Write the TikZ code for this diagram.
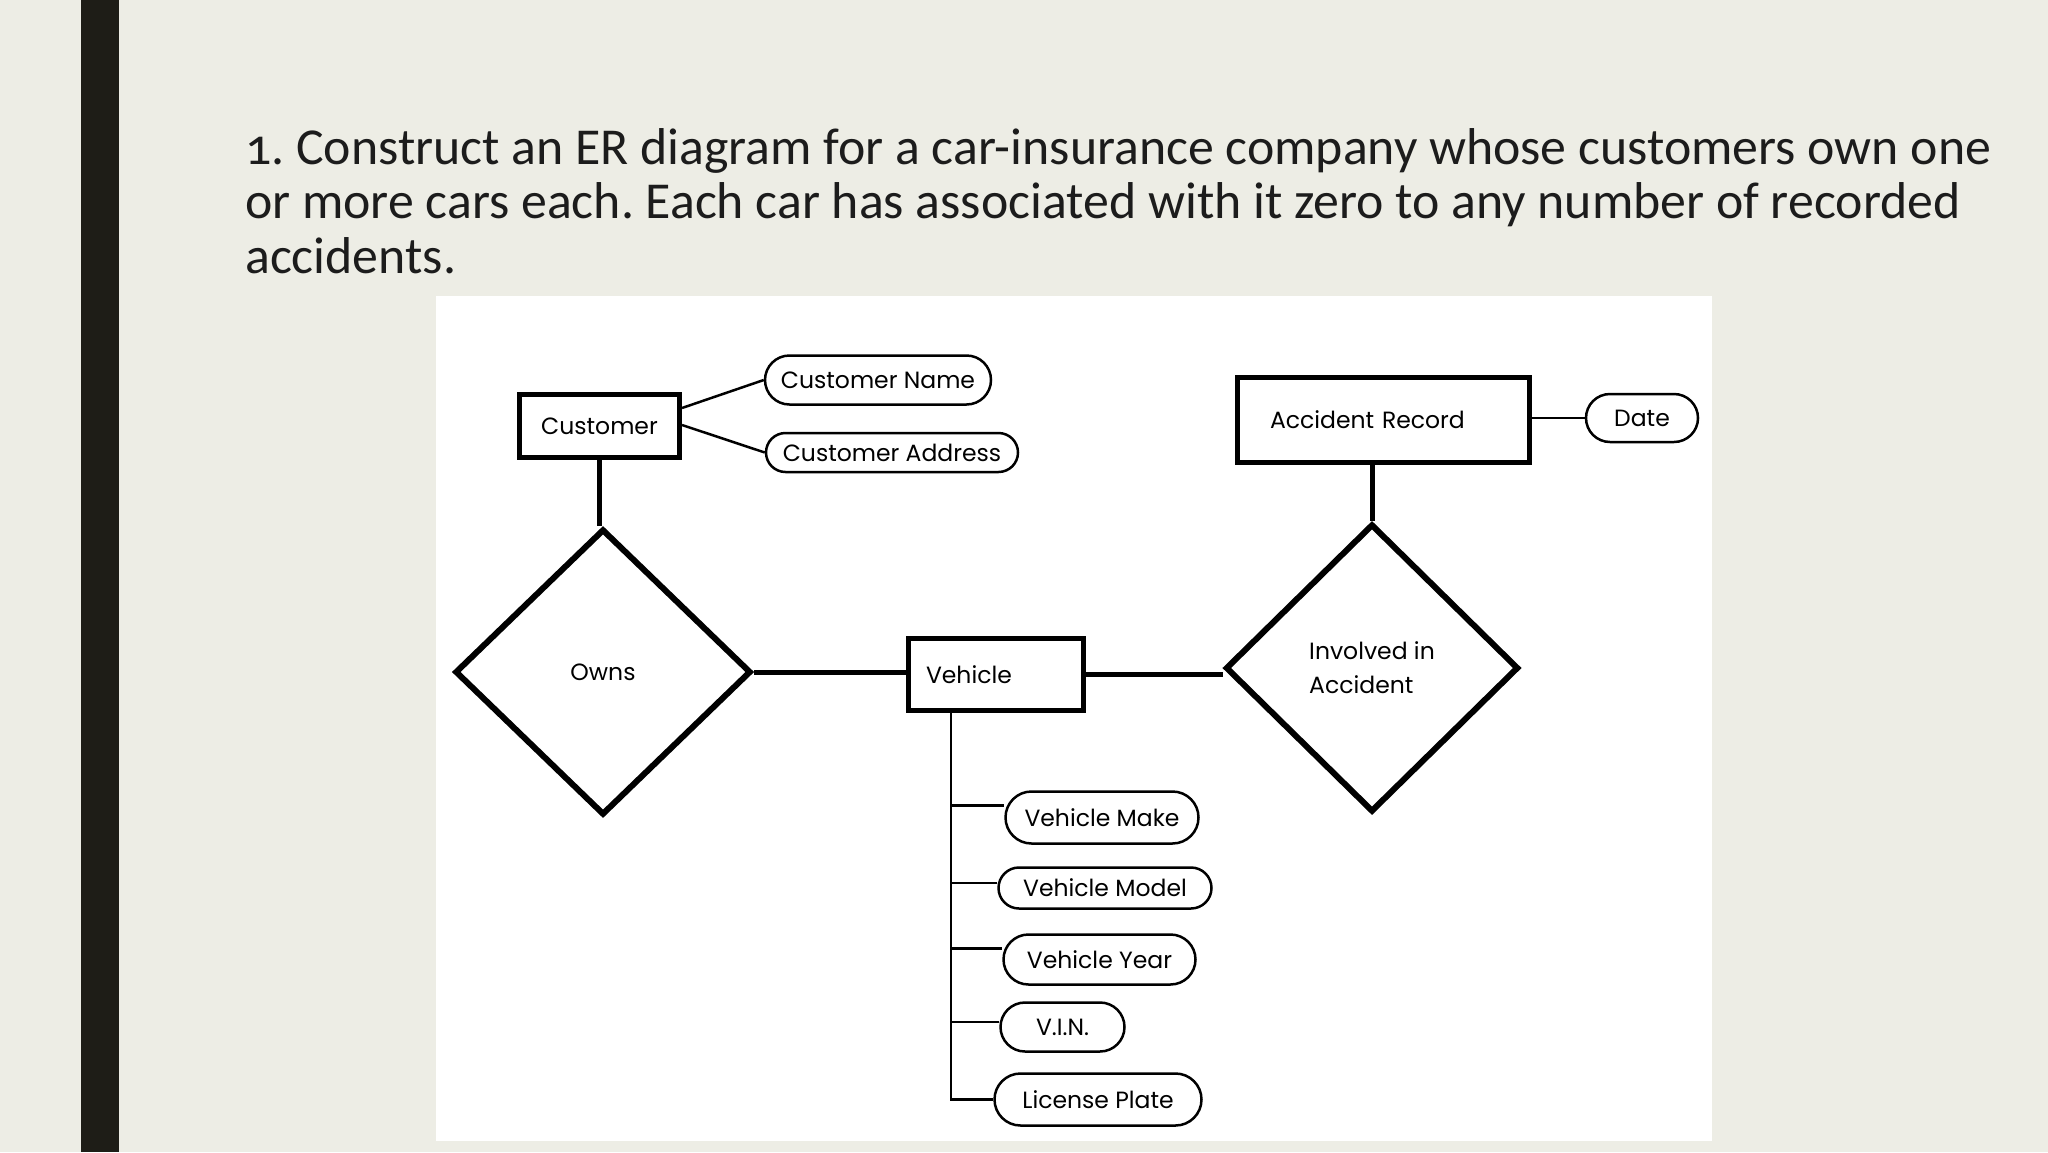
\documentclass[tikz,border=0pt]{standalone}
\usepackage{fontspec}
\setmainfont{Carlito}[Numbers=OldStyle]
\newfontfamily\diagfont{Poppins}
\usetikzlibrary{shapes.geometric,shapes.misc}
\definecolor{bg}{HTML}{EDEDE5}
\definecolor{barc}{HTML}{1E1D17}
\definecolor{ink}{HTML}{1C1C1C}
\frenchspacing
\begin{document}
\begin{tikzpicture}[x=1pt,y=-1pt,
  titletext/.style={anchor=base west, inner sep=0, text=ink, font=\fontsize{51.8}{56}\selectfont},
  entity/.style={draw, line width=5pt, rectangle, inner sep=0, font=\diagfont\fontsize{23.5}{26}\selectfont},
  rel/.style={draw, line width=6pt, diamond, inner sep=0, align=left, font=\diagfont\fontsize{23.5}{34}\selectfont},
  attr/.style={draw, line width=2.5pt, rounded rectangle, inner sep=0, font=\diagfont\fontsize{23.5}{26}\selectfont},
  thicklink/.style={line width=5pt},
  thinlink/.style={line width=2.5pt}]
% background and frame
\fill[bg] (0,0) rectangle (2048,1152);
\fill[barc] (81,0) rectangle (119,1152);
\fill[white] (436,296) rectangle (1712,1141);
\useasboundingbox (0,0) rectangle (2048,1152);
% title
\node[titletext] (t1) at (245,164) {1. Construct an ER diagram for a car-insurance company whose customers own one};
\node[titletext] (t2) at (245,218) {or more cars each. Each car has associated with it zero to any number of recorded};
\node[titletext] (t3) at (245,273) {accidents.};
% entities
\node[entity, minimum width=160, minimum height=63] (cust) at (599.5,426) {Customer};
\node[entity, minimum width=175, minimum height=72, text width=140, align=left] (veh) at (996,674.5) {Vehicle};
\node[entity, minimum width=292, minimum height=85, text width=227, align=left] (acc) at (1383.5,420) {Accident Record};
% relationships
\node[rel, minimum width=296, minimum height=286] (owns) at (603,672) {Owns};
\node[rel, minimum width=293, minimum height=288] (inv) at (1372,668) {Involved in\\Accident};
% attributes
\node[attr, minimum width=226, minimum height=49] (cname) at (878,380) {Customer Name};
\node[attr, minimum width=252, minimum height=39] (caddr) at (892,452.5) {Customer Address};
\node[attr, minimum width=112, minimum height=48] (date) at (1642,418) {Date};
\node[attr, minimum width=193, minimum height=52] (make) at (1102,817.5) {Vehicle Make};
\node[attr, minimum width=213, minimum height=41] (model) at (1105,888) {Vehicle Model};
\node[attr, minimum width=192, minimum height=50] (year) at (1099.5,959.5) {Vehicle Year};
\node[attr, minimum width=124, minimum height=49] (vin) at (1062.5,1027) {V.I.N.};
\node[attr, minimum width=207, minimum height=52] (plate) at (1098,1099.5) {License Plate};
% connectors
\draw[thicklink] (cust.south) -- (cust.south |- owns.north);
\draw[thinlink] ([yshift=18pt]cust.east) -- (cname.west);
\draw[thinlink] ([yshift=1pt]cust.east) -- (caddr.west);
\draw[thicklink] (owns.east) -- (owns.east -| veh.west);
\draw[thicklink] (veh.east) -- (veh.east -| inv.west);
\draw[thicklink] (inv.north) -- (inv.north |- acc.south);
\draw[thinlink] (date.west) -- (date.west -| acc.east);
\coordinate (tk) at (951,0);
\draw[thinlink] (veh.south -| tk) |- ([yshift=12pt]make.west);
\draw[thinlink] (veh.south -| tk) |- ([yshift=5pt]model.west);
\draw[thinlink] (veh.south -| tk) |- ([yshift=11pt]year.west);
\draw[thinlink] (veh.south -| tk) |- ([yshift=5pt]vin.west);
\draw[thinlink] (veh.south -| tk) |- (plate.west);
\end{tikzpicture}
\end{document}
